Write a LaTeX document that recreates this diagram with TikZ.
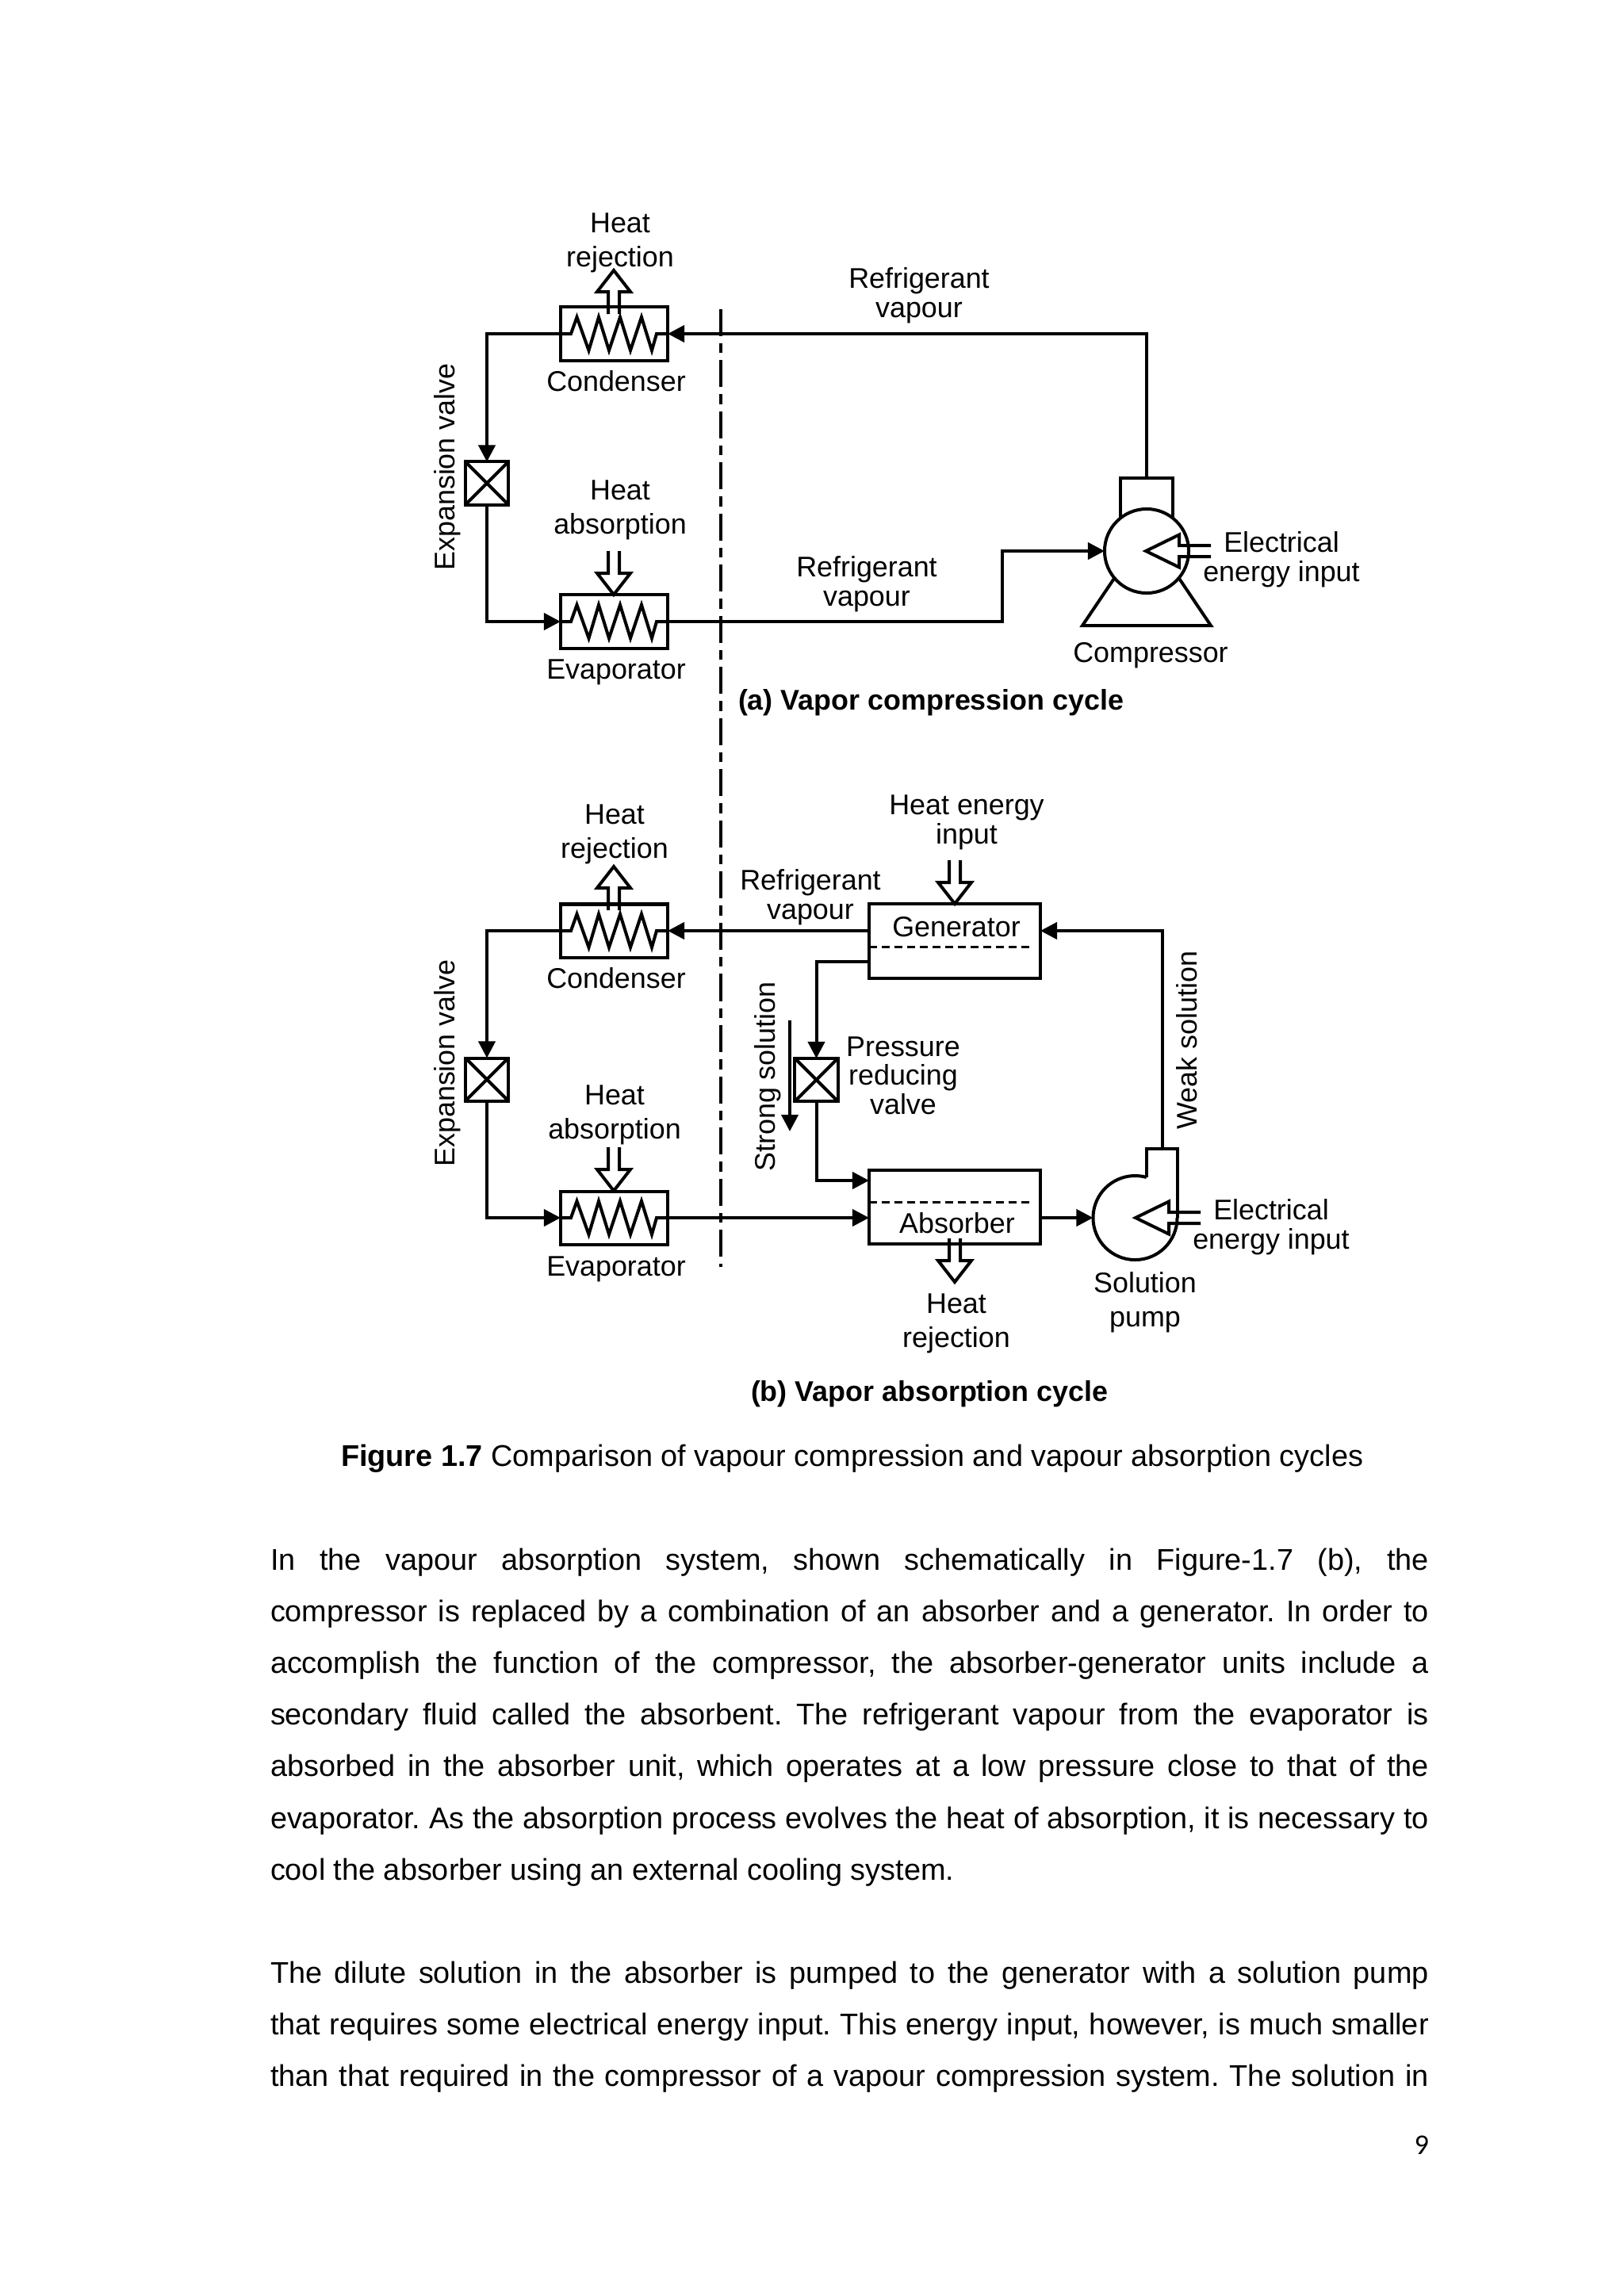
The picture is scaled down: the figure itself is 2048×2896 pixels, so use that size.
\documentclass[tikz,border=0pt]{standalone}
\usepackage{fontspec}
\setmainfont{Liberation Sans}
\newfontfamily\pagefont{Carlito}
\usetikzlibrary{arrows.meta}
\tolerance=10000
\hbadness=10000
\newcommand{\bodypar}[1]{\parbox[t]{14.6cm}{#1}}
\tikzset{
	pipe/.style={line width=0.04cm},
	flow/.style={pipe, -{Triangle[length=0.21cm,width=0.21cm]}},
	unitbox/.style={draw, pipe, rectangle, inner sep=0pt, outer sep=0pt},
	valvebox/.style={unitbox, minimum width=0.54cm, minimum height=0.54cm},
	coilbox/.style={unitbox, minimum width=1.35cm, minimum height=0.67cm},
	tankbox/.style={unitbox, minimum width=2.16cm, minimum height=0.935cm},
	machine/.style={circle, inner sep=0pt, outer sep=0pt, minimum size=1.06cm},
	lbl/.style={inner sep=0pt, outer sep=0pt, anchor=base, align=center, font=\fontsize{10.2}{12.2}\selectfont},
	tightlbl/.style={lbl, font=\fontsize{10.2}{10.3}\selectfont},
	bodytext/.style={inner sep=0pt, outer sep=0pt, anchor=base west, font=\fontsize{10.76}{18.55}\selectfont},
	sepline/.style={line width=0.035cm, dash pattern=on 0.34cm off 0.09cm on 0.125cm off 0.09cm},
	levelline/.style={line width=0.03cm, dash pattern=on 0.10cm off 0.06cm},
	coil/.pic={\draw[pipe] (-67.5,0) -- (-54.5,0) -- (-47,-21) -- (-32,21) -- (-19.5,-21) -- (-6.5,21) -- (7.5,-21) -- (20.5,21) -- (34.5,-21) -- (47.5,21) -- (53.5,0) -- (67.5,0);},
	heatarrow/.pic={\draw[pipe] (-7,55) -- (-7,27) -- (-21,27) -- (0,0) -- (21,27) -- (7,27) -- (7,55);},
	powerarrow/.pic={\draw[pipe] (-7,82) -- (-7,42) -- (-20.5,42) -- (0,0) -- (20.5,42) -- (7,42) -- (7,82);}
}
\begin{document}
\frenchspacing
\begin{tikzpicture}[x=0.01cm, y=-0.01cm]
	\path[use as bounding box, fill=white] (0,0) rectangle (2048,2896);

	\coordinate (septop) at (909,389.5);
	\coordinate (sepbot) at (909,1598);
	\draw[sepline] (septop) -- (sepbot);

	\node[coilbox](cond1) at (774.5,421){};
	\node[coilbox](evap1) at (774.5,784){};
	\node[valvebox](valve1) at (614,609.5){};
	\node[machine, draw, pipe](comp) at (1446,695){};
	\coordinate (compout) at (1446,602);
	\coordinate (compbend) at (1264,784);

	\pic at (cond1) {coil};
	\pic at (evap1) {coil};
	\pic at (774,341) {heatarrow};
	\pic[rotate=180] at (774,750) {heatarrow};
	\pic[rotate=90] at (1445,695) {powerarrow};
	\draw[pipe] (valve1.north west) -- (valve1.south east);
	\draw[pipe] (valve1.north east) -- (valve1.south west);
	\draw[pipe] (comp.128) -- ++(0,-50) -| (comp.52);
	\draw[pipe] (comp.220) -- (1365,789) -- (1527,789) -- (comp.320);

	\draw[flow] (compout) |- (cond1.east);
	\draw[flow] (cond1.west) -| (valve1.north);
	\draw[flow] (valve1.south) |- (evap1.west);
	\draw[flow] (evap1.east) -- (compbend) |- (comp.west);

	\node[lbl](rej1) at (782,336){Heat\\rejection};
	\node[lbl](cond1lbl) at (777,493){Condenser};
	\node[lbl](abs1) at (782,673){Heat\\absorption};
	\node[lbl](evap1lbl) at (777,856){Evaporator};
	\node[lbl, rotate=90](exp1) at (573,589){Expansion valve};
	\node[tightlbl](vap1) at (1159,400){Refrigerant\\vapour};
	\node[tightlbl](vap2) at (1093,764){Refrigerant\\vapour};
	\node[tightlbl](elec1) at (1616,733){Electrical\\energy input};
	\node[lbl](complbl) at (1451,835){Compressor};
	\node[lbl, anchor=base west](capa) at (931,895){\bfseries (a) Vapor compression cycle};

	\node[coilbox](cond2) at (774.5,1174){};
	\node[coilbox](evap2) at (774.5,1536){};
	\node[valvebox](valve2) at (614,1361.5){};
	\node[valvebox](valve3) at (1029.5,1362){};
	\node[tankbox](gen) at (1204,1187){};
	\node[tankbox](abso) at (1204,1522.5){};
	\node[machine](pump) at (1431.5,1536){};
	\coordinate (genout) at (1096,1174);
	\coordinate (genin) at (1312,1174);
	\coordinate (genstrong) at (1096,1213);
	\coordinate (absstrong) at (1096,1489);
	\coordinate (absvap) at (1096,1536);
	\coordinate (absout) at (1312,1536);
	\coordinate (pumpout) at (1466,1448);
	\coordinate (strongtop) at (996,1287);
	\coordinate (strongbot) at (996,1427);

	\pic at (cond2) {coil};
	\pic at (evap2) {coil};
	\pic at (774,1093) {heatarrow};
	\pic[rotate=180] at (774,1502) {heatarrow};
	\pic[rotate=180] at (1204,1140) {heatarrow};
	\pic[rotate=180] at (1204,1617) {heatarrow};
	\pic[rotate=90] at (1432,1536) {powerarrow};
	\draw[pipe] (valve2.north west) -- (valve2.south east);
	\draw[pipe] (valve2.north east) -- (valve2.south west);
	\draw[pipe] (valve3.north west) -- (valve3.south east);
	\draw[pipe] (valve3.north east) -- (valve3.south west);
	\draw[levelline] (1096,1194) -- (1302,1194);
	\draw[levelline] (1096,1516) -- (1302,1516);
	\draw[pipe] (pump.east) arc[start angle=0, end angle=-285.6, radius=0.53cm];
	\draw[pipe] (pump.74) -- ++(0,-36) -| (pump.east);

	\draw[flow] (genout) -- (cond2.east);
	\draw[flow] (cond2.west) -| (valve2.north);
	\draw[flow] (valve2.south) |- (evap2.west);
	\draw[flow] (evap2.east) -- (absvap);
	\draw[flow] (genstrong) -| (valve3.north);
	\draw[flow] (valve3.south) |- (absstrong);
	\draw[flow] (absout) -- (pump.west);
	\draw[flow] (pumpout) |- (genin);
	\draw[flow] (strongtop) -- (strongbot);

	\node[lbl](rej2) at (775,1082){Heat\\rejection};
	\node[lbl](cond2lbl) at (777,1246){Condenser};
	\node[lbl](abs2) at (775,1436){Heat\\absorption};
	\node[lbl](evap2lbl) at (777,1609){Evaporator};
	\node[lbl, rotate=90](exp2) at (573,1341){Expansion valve};
	\node[tightlbl](heatin) at (1219,1064){Heat energy\\input};
	\node[tightlbl](vap3) at (1022,1159){Refrigerant\\vapour};
	\node[lbl](genlbl) at (1206,1181){Generator};
	\node[lbl, rotate=90](strong) at (977,1358){Strong solution};
	\node[tightlbl](prv) at (1139,1405){Pressure\\reducing\\valve};
	\node[lbl](abslbl) at (1207,1555){Absorber};
	\node[lbl](rej3) at (1206,1699){Heat\\rejection};
	\node[lbl, rotate=90](weak) at (1509,1312){Weak solution};
	\node[tightlbl](elec2) at (1603,1575){Electrical\\energy input};
	\node[lbl](pumplbl) at (1444,1673){Solution\\pump};
	\node[lbl, anchor=base west](capb) at (947,1767){\bfseries (b) Vapor absorption cycle};

	\node[lbl, anchor=base west, font=\fontsize{10.76}{13}\selectfont](fig) at (430,1849){\textbf{Figure 1.7} Comparison of vapour compression and vapour absorption cycles};
	\node[bodytext](para1) at (341,1980){\bodypar{In the vapour absorption system, shown schematically in Figure-1.7 (b), the\linebreak
		compressor is replaced by a combination of an absorber and a generator. In order to\linebreak
		accomplish the function of the compressor, the absorber-generator units include a\linebreak
		secondary fluid called the absorbent. The refrigerant vapour from the evaporator is\linebreak
		absorbed in the absorber unit, which operates at a low pressure close to that of the\linebreak
		evaporator. As the absorption process evolves the heat of absorption, it is necessary to\linebreak
		cool the absorber using an external cooling system.}};
	\node[bodytext](para2) at (341,2501.5){\bodypar{The dilute solution in the absorber is pumped to the generator with a solution pump\linebreak
		that requires some electrical energy input. This energy input, however, is much smaller\linebreak
		than that required in the compressor of a vapour compression system. The solution in\linebreak}};
	\node[lbl, anchor=base east, font=\pagefont\fontsize{10.3}{12}\selectfont](pageno) at (1802,2717){9};
\end{tikzpicture}
\end{document}
